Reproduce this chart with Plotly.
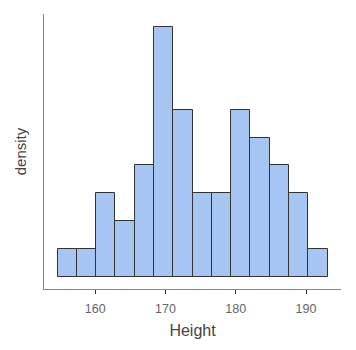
import plotly.graph_objects as go

# Histogram of Height (14 bins)
bin_start = 154.64
bin_width = 2.744
counts = [1, 1, 3, 2, 4, 9, 6, 3, 3, 6, 5, 4, 3, 1]
tick_vals = [160, 170, 180, 190]
tick_text = ["160", "170", "180", "190"]

n_total = sum(counts)
centers = [bin_start + bin_width * (i + 0.5) for i in range(len(counts))]
density = [c / (n_total * bin_width) for c in counts]

x_lo = bin_start
x_hi = bin_start + bin_width * len(counts)
x_pad = 0.05 * (x_hi - x_lo)
y_max = max(density)
y_pad = 0.05 * y_max

fig = go.Figure(go.Bar(
    x=centers, y=density, width=bin_width,
    marker=dict(color="#a6c5f2", line=dict(color="#333333", width=1)),
))

font = "Liberation Sans, Arial, sans-serif"
fig.update_layout(
    width=356, height=350,
    margin=dict(l=44, r=15, t=14, b=61),
    plot_bgcolor="white", paper_bgcolor="white",
    showlegend=False,
    font=dict(family=font),
    bargap=0,
)
fig.update_xaxes(
    range=[x_lo - x_pad, x_hi + x_pad],
    tickvals=tick_vals, ticktext=tick_text,
    ticks="outside", ticklen=4, tickcolor="#333333", tickwidth=1,
    ticklabelstandoff=4,
    tickfont=dict(size=12.5, color="#666666"),
    showline=True, linecolor="#888888", linewidth=1.3,
    showgrid=False, zeroline=False,
    title=dict(text="Height", font=dict(size=16, color="#444444"), standoff=9),
)
fig.update_yaxes(
    range=[-y_pad, y_max + y_pad],
    showticklabels=False, ticks="",
    showline=True, linecolor="#888888", linewidth=1.3,
    showgrid=False, zeroline=False,
    title=dict(text="density", font=dict(size=15, color="#444444"), standoff=12),
)
fig.write_html("out.html")
